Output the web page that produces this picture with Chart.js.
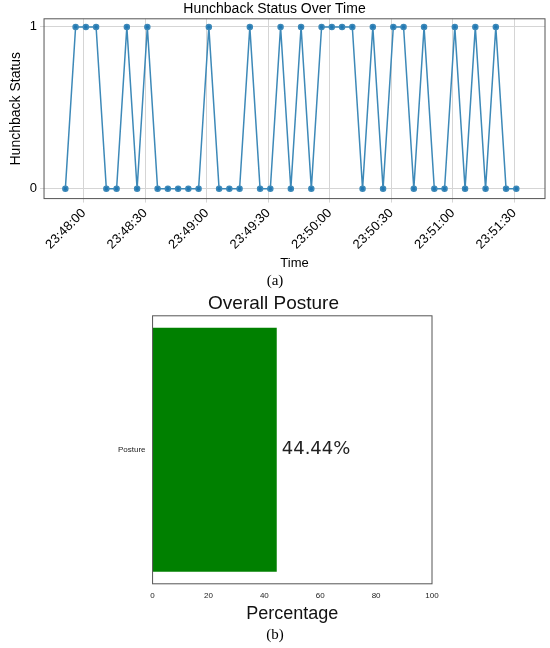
<!DOCTYPE html>
<html><head><meta charset="utf-8">
<script src="https://cdn.jsdelivr.net/npm/chart.js"></script>
<style>
body{margin:0;background:#fff;font-family:"DejaVu Sans",sans-serif;}
.c{position:absolute;left:0;}
.cap{position:absolute;width:550px;text-align:center;font-family:"Liberation Serif",serif;font-size:15px;color:#000;}
</style></head><body>
<div class="c" style="top:0;width:550px;height:275px"><canvas id="top"></canvas></div>
<div class="cap" style="top:272px">(a)</div>
<div class="c" style="top:292px;width:550px;height:337px"><canvas id="bot"></canvas></div>
<div class="cap" style="top:626px">(b)</div>
<script>
// seconds relative to 23:48:00
const times = [-9,-4,1,6,11,16,21,26,31,36,41,46,51,56,61,66,71,76,81,86,91,96,101,106,111,116,121,126,131,136,141,146,151,156,161,166,171,176,181,186,191,196,201,206,211];
const status = [0,1,1,1,0,0,1,0,1,0,0,0,0,0,1,0,0,0,1,0,0,1,0,1,0,1,1,1,1,0,1,0,1,1,0,1,0,0,1,0,1,0,1,0,0];
const timeTicks = [0,30,60,90,120,150,180,210];
const postureLabels = ["Posture"];
const postureValues = [44.44];

function fmt(s){
  const t = 23*3600 + 48*60 + s;
  const h = Math.floor(t/3600), m = Math.floor(t%3600/60), sec = t%60;
  return [h,m,sec].map(v => String(v).padStart(2,"0")).join(":");
}

const frame = {
  id: "frame",
  afterDraw(chart) {
    const a = chart.chartArea, ctx = chart.ctx;
    ctx.save(); ctx.strokeStyle = "#555"; ctx.lineWidth = 1;
    ctx.strokeRect(a.left, a.top, a.right - a.left, a.bottom - a.top);
    ctx.restore();
  }
};

new Chart(document.getElementById("top"), {
  type: "line",
  data: { datasets: [{
    data: times.map((t, i) => ({ x: t, y: status[i] })),
    borderColor: "#3d89b8", backgroundColor: "#1f77b4",
    borderWidth: 1.5, pointRadius: 2.5, pointHoverRadius: 2.5, tension: 0
  }]},
  options: {
    animation: false, responsive: true, maintainAspectRatio: false,
    layout: { padding: { left: 4, right: 5, top: 0, bottom: 0 } },
    plugins: {
      legend: { display: false }, tooltip: { enabled: false },
      title: { display: true, text: "Hunchback Status Over Time", color: "#000",
        font: { size: 14, weight: "normal" }, padding: { top: 1, bottom: 1 } }
    },
    scales: {
      x: { type: "linear", min: -19.4, max: 225,
        afterBuildTicks: ax => { ax.ticks = timeTicks.map(v => ({ value: v })); },
        ticks: { callback: v => fmt(v), color: "#000", font: { size: 13 }, maxRotation: 45, minRotation: 45, autoSkip: false },
        grid: { color: "#d5d5d5", drawTicks: true, tickLength: 4 },
        border: { display: false },
        title: { display: true, text: "Time", color: "#000", font: { size: 13 }, padding: { top: 0 } } },
      y: { min: -0.06, max: 1.05,
        afterBuildTicks: ax => { ax.ticks = [{ value: 0 }, { value: 1 }]; },
        ticks: { color: "#000", font: { size: 13 } },
        grid: { color: "#d5d5d5", tickLength: 4 },
        border: { display: false },
        title: { display: true, text: "Hunchback Status", color: "#000", font: { size: 14 }, padding: { bottom: 2 } } }
    }
  },
  plugins: [frame]
});

const valueLabel = {
  id: "valueLabel",
  afterDatasetsDraw(chart) {
    const ctx = chart.ctx;
    chart.getDatasetMeta(0).data.forEach((bar, i) => {
      ctx.save(); ctx.fillStyle = "#222"; ctx.font = "18px 'DejaVu Sans'";
      ctx.textBaseline = "middle";
      ctx.fillText(postureValues[i].toFixed(2) + "%", bar.x + 5, bar.y);
      ctx.restore();
    });
  }
};

new Chart(document.getElementById("bot"), {
  type: "bar",
  data: { labels: postureLabels, datasets: [{ data: postureValues, backgroundColor: "#008000",
    barPercentage: 0.91, categoryPercentage: 1 }] },
  options: {
    indexAxis: "y", animation: false, responsive: true, maintainAspectRatio: false,
    layout: { padding: { left: 115, right: 118, top: 0, bottom: 0 } },
    plugins: {
      legend: { display: false }, tooltip: { enabled: false },
      title: { display: true, text: "Overall Posture", color: "#111",
        font: { size: 19, weight: "normal" }, padding: { top: 0, bottom: 1 } }
    },
    scales: {
      x: { min: 0, max: 100, ticks: { stepSize: 20, color: "#222", font: { size: 8 } },
        grid: { display: false, tickLength: 4 }, border: { display: false },
        title: { display: true, text: "Percentage", color: "#111", font: { size: 18 }, padding: { top: 0 } } },
      y: { ticks: { color: "#222", font: { size: 8 } }, grid: { display: false, tickLength: 4 }, border: { display: false } }
    }
  },
  plugins: [frame, valueLabel]
});
</script>
</body></html>
